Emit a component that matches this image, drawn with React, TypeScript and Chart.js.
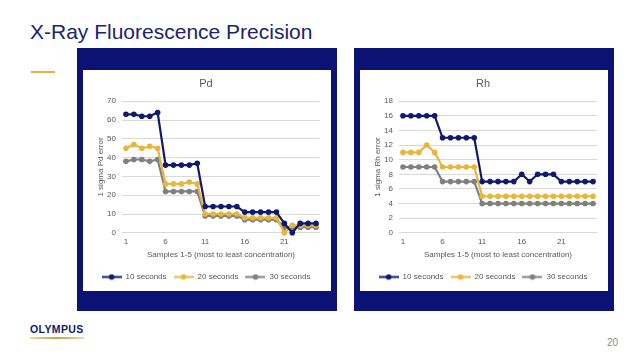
import React, { useEffect, useRef } from 'react';
import { Chart, registerables } from 'chart.js';

Chart.register(...registerables);

const categories = ['1','2','3','4','5','6','7','8','9','10','11','12','13','14','15','16','17','18','19','20','21','22','23','24','25'];
const seriesNames = ['10 seconds', '20 seconds', '30 seconds'];
const seriesColors = ['#0f1a6e', '#e8b63c', '#808080'];

const pd10 = [63,63,62,62,64,36,36,36,36,37,14,14,14,14,14,11,11,11,11,11,5,0,5,5,5];
const pd20 = [45,47,45,46,45,26,26,26,27,26,10,10,10,10,10,8,8,8,8,8,0,4,4,4,4];
const pd30 = [38,39,39,38,39,22,22,22,22,22,9,9,9,9,9,7,7,7,7,7,3,3,3,3,3];

const rh10 = [16,16,16,16,16,13,13,13,13,13,7,7,7,7,7,8,7,8,8,8,7,7,7,7,7];
const rh20 = [11,11,11,12,11,9,9,9,9,9,5,5,5,5,5,5,5,5,5,5,5,5,5,5,5];
const rh30 = [9,9,9,9,9,7,7,7,7,7,4,4,4,4,4,4,4,4,4,4,4,4,4,4,4];

const FONT = "'Liberation Sans', Arial, sans-serif";

function makeLegendIcon(color: string) {
  const c = document.createElement('canvas');
  c.width = 20;
  c.height = 7;
  const g = c.getContext('2d')!;
  g.strokeStyle = color;
  g.lineWidth = 2;
  g.beginPath();
  g.moveTo(0, 3.5);
  g.lineTo(20, 3.5);
  g.stroke();
  g.fillStyle = color;
  g.beginPath();
  g.arc(10, 3.5, 2.8, 0, Math.PI * 2);
  g.fill();
  return c;
}

type Props = { title: string; yTitle: string; yMax: number; yStep: number; series: number[][] };

function LineChart({ title, yTitle, yMax, yStep, series }: Props) {
  const ref = useRef<HTMLCanvasElement>(null);
  useEffect(() => {
    if (!ref.current) return;
    const icons = seriesColors.map(makeLegendIcon);
    const chart = new Chart(ref.current, {
      type: 'line',
      data: {
        labels: categories,
        datasets: series.map((d, i) => ({
          label: seriesNames[i],
          data: d,
          borderColor: seriesColors[i],
          backgroundColor: seriesColors[i],
          borderWidth: 2.2,
          pointRadius: 2.8,
          pointBorderWidth: 0,
          pointBackgroundColor: seriesColors[i],
          tension: 0,
          clip: false as any,
        })),
      },
      options: {
        responsive: false,
        animation: false,
        layout: { padding: { left: 9, right: 11, top: 0, bottom: 0 } },
        plugins: {
          title: {
            display: true,
            text: title,
            color: '#595959',
            font: { family: FONT, size: 11, weight: 'normal' as any },
            padding: { top: 7, bottom: 11 },
          },
          legend: {
            position: 'bottom',
            labels: {
              usePointStyle: true,
              pointStyleWidth: 20,
              padding: 7,
              color: '#595959',
              font: { family: FONT, size: 8 },
              generateLabels: (ch: any) => {
                const items = (Chart.defaults.plugins.legend.labels as any).generateLabels(ch);
                return items.map((it: any, i: number) => ({ ...it, pointStyle: icons[i] }));
              },
            },
          },
          tooltip: { enabled: false },
        },
        scales: {
          x: {
            offset: true,
            grid: { display: false, drawTicks: false },
            border: { display: false },
            ticks: {
              autoSkip: false,
              maxRotation: 0,
              padding: 4,
              color: '#595959',
              font: { family: FONT, size: 8 },
              callback: (_v: any, idx: number) => (idx % 5 === 0 ? categories[idx] : ''),
            },
            title: {
              display: true,
              text: 'Samples 1-5 (most to least concentration)',
              color: '#595959',
              font: { family: FONT, size: 8 },
              padding: { top: 0, bottom: 6 },
            },
          },
          y: {
            min: 0,
            max: yMax,
            afterFit: (s: any) => { s.width = 30; },
            grid: { color: '#d9d9d9', lineWidth: 1, drawTicks: false },
            border: { display: false },
            ticks: {
              stepSize: yStep,
              autoSkip: false,
              padding: 6,
              color: '#595959',
              font: { family: FONT, size: 8 },
            },
            title: {
              display: true,
              text: yTitle,
              color: '#595959',
              font: { family: FONT, size: 8 },
              padding: { top: 4, bottom: 0 },
            },
          },
        },
      } as any,
    });
    return () => chart.destroy();
  }, []);
  return <canvas ref={ref} width={248} height={221} style={{ display: 'block', width: 248, height: 221 }} />;
}

const NAVY = '#0b1274';

function Panel({ left, children }: { left: number; children: React.ReactNode }) {
  return (
    <div style={{ position: 'absolute', left, top: 48, width: 260, height: 263, background: NAVY }}>
      <div style={{ position: 'absolute', left: 6, top: 22, width: 248, height: 221, background: '#ffffff' }}>
        {children}
      </div>
    </div>
  );
}

export default function App() {
  return (
    <div style={{ position: 'absolute', left: 0, top: 0, width: 638, height: 359, background: '#ffffff', overflow: 'hidden', fontFamily: FONT }}>
      <div style={{ position: 'absolute', left: 30, top: 21, fontSize: 21, lineHeight: '21px', color: '#1b2470', whiteSpace: 'nowrap' }}>
        X-Ray Fluorescence Precision
      </div>
      <div style={{ position: 'absolute', left: 31, top: 71, width: 24, height: 2, background: '#e6b33d' }} />
      <Panel left={77}>
        <LineChart title="Pd" yTitle="1 sigma Pd error" yMax={70} yStep={10} series={[pd10, pd20, pd30]} />
      </Panel>
      <Panel left={354}>
        <LineChart title="Rh" yTitle="1 sigma Rh error" yMax={18} yStep={2} series={[rh10, rh20, rh30]} />
      </Panel>
      <div style={{ position: 'absolute', left: 30, top: 324, fontSize: 10.5, lineHeight: '11px', fontWeight: 'bold', color: '#10206e', letterSpacing: 0.4 }}>
        OLYMPUS
      </div>
      <div style={{ position: 'absolute', left: 30, top: 337, width: 54, height: 1.5, background: 'linear-gradient(90deg, #f0d9a0, #c9a24a, #f0d9a0)' }} />
      <div style={{ position: 'absolute', left: 607, top: 338, fontSize: 10, lineHeight: '10px', color: '#8c8c8c' }}>
        20
      </div>
    </div>
  );
}
